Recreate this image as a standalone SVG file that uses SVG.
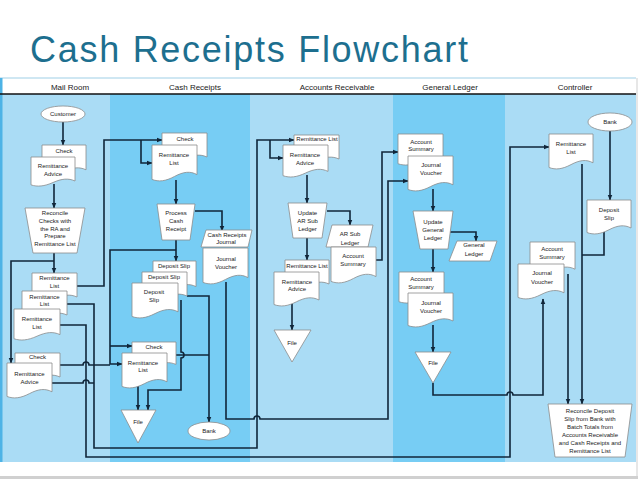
<svg xmlns="http://www.w3.org/2000/svg" xmlns:xlink="http://www.w3.org/1999/xlink" width="638" height="479" viewBox="0 0 638 479">
<style>
.t{font-family:"Liberation Sans",Arial,sans-serif;font-size:6px;fill:#1a1a1a;text-anchor:middle}
.h{font-family:"Liberation Sans",Arial,sans-serif;font-size:8px;fill:#1a1a1a;text-anchor:middle}
.s{fill:#fff;stroke:#8c8c8c;stroke-width:0.8}
.c{fill:none;stroke:#10263a;stroke-width:1.6}
.a{marker-end:url(#ar)}
</style>
<defs>
<marker id="ar" viewBox="0 0 10 10" refX="9" refY="5" markerWidth="6" markerHeight="6" markerUnits="userSpaceOnUse" orient="auto"><path d="M0,1 L10,5 L0,9 Z" fill="#10263a"/></marker>
<symbol id="doc" viewBox="0 0 100 100" preserveAspectRatio="none" overflow="visible"><path d="M0,0 H100 V80 C85,70 70,72 50,85 C30,98 15,100 0,93 Z" fill="#fff" stroke="#8c8c8c" stroke-width="0.8" vector-effect="non-scaling-stroke"/></symbol>
</defs>
<rect width="638" height="479" fill="#fff"/>
<text x="30" y="62" font-family="Liberation Sans,Arial,sans-serif" font-size="36" fill="#1d6f8f" textLength="438" lengthAdjust="spacing">Cash Receipts Flowchart</text>
<line x1="0" y1="78" x2="636" y2="78" stroke="#9fcfe6" stroke-width="1"/>
<!-- lanes -->
<rect x="0" y="94" width="110" height="368" fill="#aadcf5"/>
<rect x="110" y="94" width="140" height="368" fill="#77cdf4"/>
<rect x="250" y="94" width="143" height="368" fill="#aadcf5"/>
<rect x="393" y="94" width="112" height="368" fill="#77cdf4"/>
<rect x="505" y="94" width="131" height="368" fill="#aadcf5"/>
<rect x="0" y="78" width="2.5" height="384" fill="#4db3e6"/>
<line x1="637" y1="78" x2="637" y2="476" stroke="#cfcfcf" stroke-width="1"/>
<rect x="0" y="476" width="638" height="3" fill="#d0d0d0"/>
<line x1="0" y1="94" x2="636" y2="94" stroke="#111" stroke-width="1.5"/>
<g id="headers">
<text class="h" x="70" y="90">Mail Room</text>
<text class="h" x="195" y="90">Cash Receipts</text>
<text class="h" x="337" y="90">Accounts Receivable</text>
<text class="h" x="450" y="90">General Ledger</text>
<text class="h" x="575" y="90">Controller</text>
</g>
<g id="connectors">
<path class="c a" d="M63,122 V145"/>
<path class="c a" d="M54,184 V208"/>
<path class="c a" d="M54,253 V273"/>
<path class="c a" d="M54,261 H11 V363"/>
<path class="c a" d="M77,286 H104 V140 H162"/>
<path class="c a" d="M141,140 V163 H152"/>
<path class="c a" d="M67,304 H94 V448 H257 V140 H294"/>
<path class="c a" d="M270,140 V158 H283"/>
<path class="c a" d="M60,325 H86 V457 H510 V147 H549"/>
<path class="c" d="M60,365 H83 A3,3 0 0 1 89,365 H110"/>
<path class="c" d="M52,383 H83 A3,3 0 0 1 89,383 H94"/>
<path class="c a" d="M176,180 V204"/>
<path class="c a" d="M195,211 H222 V231"/>
<path class="c a" d="M176,240 V261"/>
<path class="c a" d="M176,250 H110 V364 H122"/>
<path class="c a" d="M110,346 H132"/>
<path class="c a" d="M187,296 H209 V422"/>
<path class="c" d="M176,355 H209"/>
<path class="c a" d="M181,300 V352 A3,3 0 0 1 181,358 V390 H148 V410"/>
<path class="c a" d="M138,386 V410"/>
<path class="c a" d="M226,282 V419 H254 A3,3 0 0 1 260,419 H388 V181 H408"/>
<path class="c a" d="M307,175 V203"/>
<path class="c a" d="M327,211 H350 V225"/>
<path class="c a" d="M307,238 V260"/>
<path class="c a" d="M292,304 V330"/>
<path class="c a" d="M376,260 H382 V152 H398"/>
<path class="c a" d="M433,189 V211"/>
<path class="c a" d="M450,232 H476 V241"/>
<path class="c a" d="M433,249 V272"/>
<path class="c a" d="M433,325 V352"/>
<path class="c a" d="M433,383 V395 H507 A3,3 0 0 1 513,395 H543 V299"/>
<path class="c a" d="M610,131 V200"/>
<path class="c a" d="M582,164 V404"/>
<path class="c" d="M604,232 V255 H582"/>
<path class="c a" d="M568,274 V404"/>
</g>
<!-- Mail Room -->
<g id="mr-customer"><ellipse class="s" cx="63" cy="114" rx="22" ry="8"/><text class="t" x="63" y="116">Customer</text></g>
<g id="mr-check"><use href="#doc" x="42" y="145" width="44" height="31"/><text class="t" x="64" y="153">Check</text></g>
<g id="mr-ra"><use href="#doc" x="31" y="157" width="44" height="30"/><text class="t" x="53" y="168">Remittance</text><text class="t" x="53" y="176">Advice</text></g>
<g id="mr-reconcile"><polygon class="s" points="25,208 85,208 77,253 33,253"/><text class="t" x="55" y="215">Reconcile</text><text class="t" x="55" y="223">Checks with</text><text class="t" x="55" y="230.5">the RA and</text><text class="t" x="55" y="238">Prepare</text><text class="t" x="55" y="246">Remittance List</text></g>
<g id="mr-rl1"><use href="#doc" x="32" y="273" width="45" height="30"/><text class="t" x="54.5" y="280">Remittance</text><text class="t" x="54.5" y="288">List</text></g>
<g id="mr-rl2"><use href="#doc" x="22" y="291" width="45" height="30"/><text class="t" x="44.5" y="299">Remittance</text><text class="t" x="44.5" y="306">List</text></g>
<g id="mr-rl3"><use href="#doc" x="14" y="309" width="46" height="32"/><text class="t" x="37" y="321">Remittance</text><text class="t" x="37" y="329">List</text></g>
<g id="mr-check2"><use href="#doc" x="15" y="353" width="45" height="30"/><text class="t" x="37.5" y="359">Check</text></g>
<g id="mr-ra2"><use href="#doc" x="7" y="363" width="45" height="36"/><text class="t" x="29.5" y="376">Remittance</text><text class="t" x="29.5" y="384">Advice</text></g>
<!-- Cash Receipts -->
<g id="cr-check"><use href="#doc" x="162" y="133" width="45" height="30"/><text class="t" x="185" y="141">Check</text></g>
<g id="cr-rl"><use href="#doc" x="152" y="145" width="45" height="37"/><text class="t" x="174" y="157">Remittance</text><text class="t" x="174" y="165">List</text></g>
<g id="cr-process"><polygon class="s" points="157,204 195,204 190,240 162,240"/><text class="t" x="176" y="215">Process</text><text class="t" x="176" y="223">Cash</text><text class="t" x="176" y="231">Receipt</text></g>
<g id="cr-journal"><polygon class="s" points="206,230 252,230 248,247 201,247"/><text class="t" x="227" y="236.5">Cash Receipts</text><text class="t" x="226" y="244">Journal</text></g>
<g id="cr-jv"><use href="#doc" x="203" y="248" width="45" height="37"/><text class="t" x="226" y="261">Journal</text><text class="t" x="226" y="269">Voucher</text></g>
<g id="cr-ds1"><use href="#doc" x="153" y="261" width="43" height="32"/><text class="t" x="174" y="268">Deposit Slip</text></g>
<g id="cr-ds2"><use href="#doc" x="142" y="272" width="45" height="30"/><text class="t" x="164" y="279">Deposit Slip</text></g>
<g id="cr-ds3"><use href="#doc" x="132" y="283" width="46" height="36"/><text class="t" x="154" y="294">Deposit</text><text class="t" x="154" y="302">Slip</text></g>
<g id="cr-check2"><use href="#doc" x="132" y="342" width="44" height="28"/><text class="t" x="154" y="349">Check</text></g>
<g id="cr-rl2"><use href="#doc" x="122" y="353" width="45" height="36"/><text class="t" x="143" y="365">Remittance</text><text class="t" x="143" y="372">List</text></g>
<g id="cr-file"><polygon class="s" points="121,410 156,410 138,443"/><text class="t" x="138" y="424">File</text></g>
<g id="cr-bank"><ellipse class="s" cx="209" cy="431" rx="21" ry="9"/><text class="t" x="209" y="433">Bank</text></g>
<!-- Accounts Receivable -->
<g id="ar-rl"><use href="#doc" x="294" y="135" width="45" height="30"/><text class="t" x="317" y="141">Remittance List</text></g>
<g id="ar-ra"><use href="#doc" x="283" y="145" width="45" height="33"/><text class="t" x="305" y="157">Remittance</text><text class="t" x="305" y="165">Advice</text></g>
<g id="ar-update"><polygon class="s" points="288,203 327,203 322,238 293,238"/><text class="t" x="307.5" y="215">Update</text><text class="t" x="307.5" y="223">AR Sub</text><text class="t" x="307.5" y="231">Ledger</text></g>
<g id="ar-subledger"><polygon class="s" points="332,225 373,225 368,247 326,247"/><text class="t" x="350" y="236">AR Sub</text><text class="t" x="350" y="245">Ledger</text></g>
<g id="ar-summary"><use href="#doc" x="331" y="247" width="45" height="37"/><text class="t" x="353" y="258">Account</text><text class="t" x="353" y="265.5">Summary</text></g>
<g id="ar-rl2"><use href="#doc" x="285" y="260" width="44" height="30"/><text class="t" x="307" y="268">Remittance List</text></g>
<g id="ar-ra2"><use href="#doc" x="274" y="272" width="45" height="35"/><text class="t" x="297" y="284">Remittance</text><text class="t" x="297" y="291">Advice</text></g>
<g id="ar-file"><polygon class="s" points="274,330 311,330 292,362"/><text class="t" x="292" y="345">File</text></g>
<!-- General Ledger -->
<g id="gl-summary"><use href="#doc" x="398" y="134" width="45" height="32"/><text class="t" x="421" y="144">Account</text><text class="t" x="421" y="151">Summary</text></g>
<g id="gl-jv"><use href="#doc" x="408" y="156" width="45" height="36"/><text class="t" x="431" y="167">Journal</text><text class="t" x="431" y="175">Voucher</text></g>
<g id="gl-update"><polygon class="s" points="413,211 453,211 448,249 420,249"/><text class="t" x="433" y="224">Update</text><text class="t" x="433" y="232">General</text><text class="t" x="433" y="240">Ledger</text></g>
<g id="gl-ledger"><polygon class="s" points="457,241 497,241 490,261 449,261"/><text class="t" x="474" y="247">General</text><text class="t" x="474" y="255.5">Ledger</text></g>
<g id="gl-summary2"><use href="#doc" x="399" y="272" width="45" height="32"/><text class="t" x="421" y="281">Account</text><text class="t" x="421" y="289">Summary</text></g>
<g id="gl-jv2"><use href="#doc" x="408" y="293" width="45" height="35"/><text class="t" x="431" y="305">Journal</text><text class="t" x="431" y="313">Voucher</text></g>
<g id="gl-file"><polygon class="s" points="415,352 451,352 433,383"/><text class="t" x="433" y="365">File</text></g>
<!-- Controller -->
<g id="ct-bank"><ellipse class="s" cx="610" cy="122" rx="22" ry="9"/><text class="t" x="610" y="124">Bank</text></g>
<g id="ct-rl"><use href="#doc" x="549" y="134" width="44" height="36"/><text class="t" x="571" y="146">Remittance</text><text class="t" x="571" y="154">List</text></g>
<g id="ct-ds"><use href="#doc" x="587" y="200" width="44" height="35"/><text class="t" x="609" y="212">Deposit</text><text class="t" x="609" y="220">Slip</text></g>
<g id="ct-summary"><use href="#doc" x="530" y="242" width="45" height="34"/><text class="t" x="552" y="251">Account</text><text class="t" x="552" y="259">Summary</text></g>
<g id="ct-jv"><use href="#doc" x="518" y="264" width="46" height="36"/><text class="t" x="542" y="275">Journal</text><text class="t" x="542" y="284">Voucher</text></g>
<g id="ct-reconcile"><polygon class="s" points="548,404 632,404 625,457 555,457"/><text class="t" x="590" y="413">Reconcile Deposit</text><text class="t" x="590" y="421">Slip from Bank with</text><text class="t" x="590" y="429">Batch Totals from</text><text class="t" x="590" y="437">Accounts Receivable</text><text class="t" x="590" y="445">and Cash Receipts and</text><text class="t" x="590" y="453">Remittance List</text></g>
</svg>
